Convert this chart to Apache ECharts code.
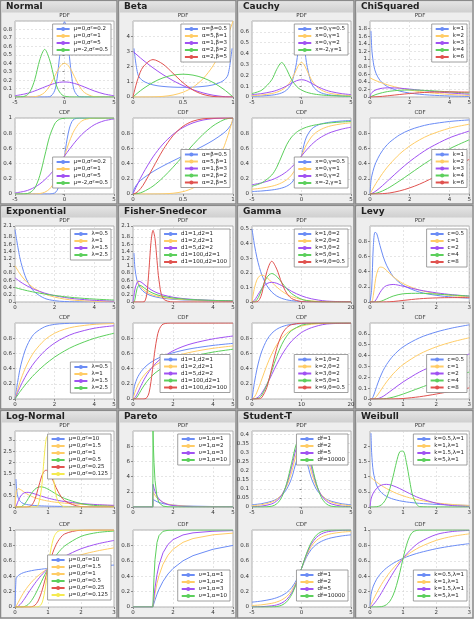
<!DOCTYPE html>
<html><head><meta charset="utf-8">
<script src="https://cdn.jsdelivr.net/npm/echarts@6/dist/echarts.min.js"></script>
<style>html,body{margin:0;padding:0;background:#eee}#c{width:474px;height:619px}</style>
</head><body><div id="c"></div>
<script>
// ---------- DATA ----------
const normalX=[-5,-4,-3.5,-3,-2.5,-2,-1.5,-1,-0.75,-0.5,-0.25,0,0.25,0.5,0.75,1,1.5,2,3,4,5];
const normalNames=['μ=0,σ²=0.2','μ=0,σ²=1','μ=0,σ²=5','μ=-2,σ²=0.5'];
const normalPdf=[
[0,0,0,0,0,0,0.003,0.073,0.219,0.477,0.763,0.892,0.763,0.477,0.219,0.073,0.003,0,0,0,0],
[0,0,0.001,0.004,0.018,0.054,0.130,0.242,0.301,0.352,0.387,0.399,0.387,0.352,0.301,0.242,0.130,0.054,0.004,0,0],
[0.015,0.036,0.052,0.072,0.095,0.119,0.142,0.161,0.168,0.174,0.177,0.178,0.177,0.174,0.168,0.161,0.142,0.119,0.072,0.036,0.015],
[0,0.010,0.059,0.207,0.439,0.564,0.439,0.207,0.118,0.059,0.026,0.010,0.004,0.001,0,0,0,0,0,0,0]];
const normalCdf=[
[0,0,0,0,0,0,0,0.013,0.047,0.132,0.288,0.5,0.712,0.868,0.953,0.987,1,1,1,1,1],
[0,0,0,0.001,0.006,0.023,0.067,0.159,0.227,0.309,0.401,0.5,0.599,0.691,0.773,0.841,0.933,0.977,0.999,1,1],
[0.013,0.037,0.059,0.090,0.132,0.186,0.251,0.327,0.369,0.411,0.455,0.5,0.545,0.589,0.631,0.673,0.749,0.814,0.910,0.963,0.987],
[0,0.002,0.017,0.079,0.240,0.5,0.760,0.921,0.962,0.983,0.993,0.998,1,1,1,1,1,1,1,1,1]];

const betaX=[0,0.01,0.05,0.1,0.2,0.3,0.4,0.5,0.6,0.7,0.8,0.9,0.95,0.99,1];
const betaNames=['α=β=0.5','α=5,β=1','α=1,β=3','α=2,β=2','α=2,β=5'];
const betaPdf=[
[null,3.2,1.46,1.06,0.796,0.695,0.650,0.637,0.650,0.695,0.796,1.06,1.46,3.2,null],
[0,0,0,0.0005,0.008,0.0405,0.128,0.3125,0.648,1.2,2.05,3.28,4.07,4.8,5],
[3,2.94,2.71,2.43,1.92,1.47,1.08,0.75,0.48,0.27,0.12,0.03,0.0075,0,0],
[0,0.059,0.285,0.54,0.96,1.26,1.44,1.5,1.44,1.26,0.96,0.54,0.285,0.059,0],
[0,0.288,1.22,1.97,2.46,2.16,1.56,0.94,0.46,0.17,0.038,0.0027,0,0,0]];
const betaCdf=[
[0,0.064,0.144,0.205,0.295,0.369,0.436,0.5,0.564,0.631,0.705,0.795,0.856,0.936,1],
[0,0,0,0,0,0.002,0.01,0.031,0.078,0.168,0.328,0.59,0.774,0.951,1],
[0,0.030,0.143,0.271,0.488,0.657,0.784,0.875,0.936,0.973,0.992,0.999,1,1,1],
[0,0,0.007,0.028,0.104,0.216,0.352,0.5,0.648,0.784,0.896,0.972,0.993,1,1],
[0,0.001,0.033,0.114,0.345,0.580,0.767,0.891,0.959,0.989,0.998,1,1,1,1]];

const cauchyX=[-5,-4,-3,-2.5,-2,-1.5,-1,-0.5,-0.25,0,0.25,0.5,1,1.5,2,2.5,3,4,5];
const cauchyNames=['x=0,γ=0.5','x=0,γ=1','x=0,γ=2','x=-2,γ=1'];
const cauchyPdf=[
[0.0063,0.0098,0.0172,0.0245,0.0374,0.0637,0.127,0.318,0.509,0.637,0.509,0.318,0.127,0.0637,0.0374,0.0245,0.0172,0.0098,0.0063],
[0.0122,0.0187,0.032,0.044,0.064,0.098,0.159,0.255,0.300,0.318,0.300,0.255,0.159,0.098,0.064,0.044,0.032,0.0187,0.0122],
[0.022,0.0318,0.049,0.062,0.0796,0.102,0.127,0.150,0.157,0.159,0.157,0.150,0.127,0.102,0.0796,0.062,0.049,0.0318,0.022],
[0.032,0.064,0.159,0.255,0.318,0.255,0.159,0.098,0.078,0.064,0.053,0.044,0.032,0.024,0.0187,0.015,0.0122,0.0086,0.0061]];
const cauchyCdf=[
[0.032,0.040,0.053,0.063,0.078,0.102,0.148,0.25,0.352,0.5,0.648,0.75,0.852,0.898,0.922,0.937,0.947,0.960,0.968],
[0.063,0.078,0.102,0.121,0.148,0.187,0.25,0.352,0.422,0.5,0.578,0.648,0.75,0.813,0.852,0.879,0.898,0.922,0.937],
[0.121,0.148,0.187,0.215,0.25,0.295,0.352,0.422,0.460,0.5,0.540,0.578,0.648,0.705,0.75,0.785,0.813,0.852,0.879],
[0.102,0.148,0.25,0.352,0.5,0.648,0.75,0.813,0.835,0.852,0.867,0.879,0.898,0.911,0.922,0.930,0.937,0.947,0.955]];

const chiX=[0,0.05,0.1,0.2,0.3,0.5,0.75,1,1.5,2,2.5,3,4,5];
const chiNames=['k=1','k=2','k=3','k=4','k=6'];
const chiPdf=[
[null,1.74,1.20,0.807,0.627,0.439,0.317,0.242,0.154,0.104,0.072,0.051,0.027,0.015],
[0.5,0.494,0.476,0.452,0.430,0.389,0.344,0.303,0.236,0.184,0.143,0.112,0.068,0.041],
[0,0.087,0.120,0.161,0.188,0.220,0.238,0.242,0.231,0.208,0.180,0.154,0.108,0.073],
[0,0.012,0.024,0.045,0.065,0.097,0.129,0.152,0.177,0.184,0.179,0.167,0.135,0.103],
[0,0,0.0006,0.0023,0.0048,0.0122,0.0242,0.038,0.066,0.092,0.112,0.126,0.135,0.128]];
const chiCdf=[
[0,0.177,0.248,0.345,0.416,0.520,0.614,0.683,0.779,0.843,0.886,0.917,0.954,0.975],
[0,0.025,0.049,0.095,0.139,0.221,0.313,0.393,0.528,0.632,0.713,0.777,0.865,0.918],
[0,0.003,0.008,0.022,0.040,0.081,0.139,0.199,0.318,0.428,0.524,0.608,0.739,0.828],
[0,0.0006,0.0012,0.0045,0.010,0.026,0.055,0.090,0.174,0.264,0.355,0.442,0.594,0.713],
[0,0,0,0,0,0.002,0.007,0.014,0.041,0.080,0.130,0.191,0.323,0.456]];

const expX=[0,0.25,0.5,0.75,1,1.5,2,2.5,3,4,5];
const expNames=['λ=0.5','λ=1','λ=1.5','λ=2.5'];
const expPdf=[
[2,1.213,0.736,0.446,0.271,0.100,0.037,0.013,0.005,0.0007,0],
[1,0.779,0.607,0.472,0.368,0.223,0.135,0.082,0.050,0.018,0.007],
[0.667,0.564,0.478,0.404,0.342,0.245,0.176,0.126,0.090,0.046,0.024],
[0.4,0.362,0.327,0.296,0.268,0.220,0.180,0.147,0.120,0.081,0.054]];
const expCdf=[
[0,0.393,0.632,0.777,0.865,0.950,0.982,0.993,0.998,1,1],
[0,0.221,0.393,0.528,0.632,0.777,0.865,0.918,0.950,0.982,0.993],
[0,0.154,0.283,0.394,0.487,0.632,0.736,0.811,0.865,0.931,0.964],
[0,0.095,0.181,0.259,0.330,0.451,0.551,0.632,0.699,0.798,0.865]];

const fX=[0,0.05,0.1,0.2,0.3,0.4,0.5,0.6,0.7,0.8,0.9,1,1.1,1.2,1.3,1.5,2,2.5,3,4,5];
const fNames=['d1=1,d2=1','d1=2,d2=1','d1=5,d2=2','d1=100,d2=1','d1=100,d2=100'];
const fPdf=[
[null,1.356,0.916,0.593,0.447,0.360,0.300,0.257,0.223,0.198,0.177,0.159,0.1445,0.132,0.121,0.104,0.075,0.0575,0.046,0.0318,0.0237],
[null,null,null,0.604,0.494,0.414,0.354,0.306,0.269,0.239,0.213,0.192,0.175,0.160,0.146,0.125,0.0894,0.068,0.054,0.037,0.0274],
[0,0.183,0.358,0.535,0.573,0.552,0.511,0.465,0.42,0.378,0.34,0.308,0.28,0.255,0.235,0.194,0.132,0.095,0.0717,0.0448,0.0305],
[0,0,0.085,0.366,0.458,0.451,0.415,0.373,0.334,0.298,0.268,0.242,0.220,0.200,0.183,0.156,0.110,0.083,0.065,0.044,0.032],
[0,0,0,0,0,0,0,0.03,0.25,0.90,1.65,1.98,1.75,1.15,0.60,0.10,0,0,0,0,0]];
const fCdf=[
[0,0.140,0.195,0.268,0.319,0.359,0.392,0.420,0.444,0.465,0.483,0.5,0.515,0.529,0.542,0.564,0.608,0.641,0.667,0.705,0.732],
[0,0.047,0.087,0.155,0.209,0.255,0.293,0.326,0.355,0.380,0.402,0.423,0.441,0.458,0.473,0.5,0.553,0.592,0.622,0.667,0.698],
[0,0.005,0.018,0.063,0.118,0.175,0.228,0.277,0.321,0.361,0.397,0.429,0.459,0.485,0.510,0.553,0.634,0.691,0.733,0.791,0.829],
[0,0,0.0016,0.025,0.068,0.114,0.157,0.197,0.232,0.264,0.292,0.317,0.341,0.361,0.380,0.414,0.480,0.527,0.564,0.617,0.655],
[0,0,0,0,0,0,0,0.003,0.02,0.08,0.23,0.44,0.65,0.81,0.91,0.985,1,1,1,1,1]];

const gammaX=[0,0.5,1,1.5,2,3,4,5,6,7,8,10,12,15,20];
const gammaNames=['k=1,θ=2','k=2,θ=2','k=3,θ=2','k=5,θ=1','k=9,θ=0.5'];
const gammaPdf=[
[0.5,0.389,0.303,0.236,0.184,0.112,0.068,0.041,0.025,0.015,0.009,0.0034,0.0012,0,0],
[0,0.097,0.152,0.177,0.184,0.167,0.135,0.103,0.075,0.053,0.037,0.017,0.0074,0.002,0],
[0,0.012,0.038,0.066,0.092,0.126,0.135,0.128,0.112,0.094,0.073,0.042,0.022,0.0065,0.0011],
[0,0.0016,0.0153,0.047,0.090,0.168,0.195,0.175,0.134,0.0912,0.0573,0.0189,0.0053,0.0006,0],
[0,0,0.0017,0.0162,0.0595,0.2066,0.279,0.225,0.131,0.0609,0.024,0.0026,0,0,0]];
const gammaCdf=[
[0,0.221,0.393,0.528,0.632,0.777,0.865,0.918,0.950,0.970,0.982,0.993,0.998,1,1],
[0,0.026,0.090,0.173,0.264,0.442,0.594,0.713,0.801,0.864,0.908,0.960,0.983,0.995,1],
[0,0.002,0.014,0.040,0.080,0.191,0.323,0.456,0.577,0.679,0.762,0.875,0.938,0.986,0.997],
[0,0,0.004,0.019,0.053,0.185,0.371,0.560,0.715,0.827,0.900,0.971,0.992,0.999,1],
[0,0,0,0.004,0.021,0.153,0.407,0.667,0.845,0.938,0.978,0.998,1,1,1]];

const levyX=[0,0.05,0.1,0.15,0.2,0.3,0.4,0.5,0.7,1,1.5,2,2.5,3];
const levyNames=['c=0.5','c=1','c=2','c=4','c=8'];
const levyPdf=[
[0,0.170,0.732,0.917,0.904,0.746,0.597,0.484,0.337,0.220,0.130,0.088,0.0646,0.050],
[0,0,0.085,0.245,0.366,0.459,0.452,0.415,0.334,0.242,0.156,0.110,0.0827,0.065],
[0,0,0,0.012,0.0425,0.123,0.183,0.216,0.231,0.2075,0.157,0.121,0.0957,0.0778],
[0,0,0,0,0,0.006,0.0213,0.041,0.078,0.108,0.1145,0.104,0.0907,0.0788],
[0,0,0,0,0,0,0,0.001,0.0064,0.0207,0.0427,0.054,0.0576,0.0572]];
const levyCdf=[
[0,0.0016,0.025,0.068,0.114,0.196,0.264,0.317,0.398,0.480,0.564,0.617,0.655,0.683],
[0,0,0.0016,0.0095,0.025,0.068,0.114,0.157,0.232,0.317,0.414,0.480,0.527,0.564],
[0,0,0,0,0.0016,0.0095,0.025,0.0455,0.091,0.157,0.249,0.317,0.371,0.414],
[0,0,0,0,0,0,0.0016,0.0047,0.017,0.0455,0.102,0.157,0.206,0.248],
[0,0,0,0,0,0,0,0,0.0007,0.0047,0.021,0.0455,0.074,0.102]];

const lognX=[0,0.03,0.05,0.1,0.2,0.3,0.4,0.5,0.6,0.7,0.8,0.85,0.9,0.95,1,1.05,1.1,1.15,1.2,1.3,1.5,2,2.5,3];
const lognNames=['μ=0,σ²=10','μ=0,σ²=1.5','μ=0,σ²=1','μ=0,σ²=0.5','μ=0,σ²=0.25','μ=0,σ²=0.125'];
const lognPdf=[
[null,1.25,0.763,0.389,0.197,0.132,0.0997,0.0798,0.0665,0.057,0.0499,0.047,0.0443,0.042,0.0399,0.038,0.0363,0.0347,0.0332,0.0307,0.0266,0.0199,0.016,0.0133],
[0,0.576,0.723,0.819,0.748,0.643,0.552,0.478,0.418,0.369,0.329,0.311,0.295,0.280,0.266,0.253,0.241,0.230,0.220,0.2015,0.171,0.1196,0.0883,0.0678],
[0,0.028,0.0897,0.2816,0.546,0.644,0.655,0.628,0.584,0.535,0.486,0.463,0.441,0.419,0.399,0.3795,0.361,0.3435,0.327,0.296,0.245,0.157,0.105,0.0727],
[0,0,0,0,0.0225,0.146,0.3726,0.611,0.789,0.885,0.903,0.890,0.867,0.8355,0.798,0.756,0.712,0.667,0.622,0.535,0.383,0.153,0.0596,0.0238],
[0,0,0,0,0,0,0.0049,0.0686,0.330,0.825,1.340,1.520,1.622,1.645,1.596,1.491,1.349,1.187,1.020,0.707,0.286,0.017,0.0008,0],
[0,0,0,0,0,0,0,0,0.0013,0.078,0.810,1.613,2.486,3.088,3.192,2.817,2.170,1.486,0.920,0.270,0.011,0,0,0]];
const lognCdf=[
[0,0.363,0.382,0.409,0.436,0.452,0.463,0.472,0.480,0.486,0.491,0.494,0.496,0.498,0.5,0.502,0.504,0.506,0.507,0.510,0.516,0.528,0.536,0.544],
[0,0.0097,0.023,0.062,0.142,0.211,0.271,0.322,0.367,0.406,0.441,0.457,0.472,0.486,0.5,0.513,0.525,0.537,0.548,0.569,0.606,0.678,0.729,0.768],
[0,0,0.0014,0.0107,0.054,0.114,0.180,0.244,0.305,0.361,0.412,0.435,0.458,0.480,0.5,0.519,0.538,0.556,0.572,0.603,0.657,0.756,0.820,0.864],
[0,0,0,0,0.0006,0.008,0.033,0.083,0.153,0.238,0.328,0.373,0.417,0.459,0.5,0.539,0.576,0.610,0.642,0.700,0.791,0.917,0.967,0.986],
[0,0,0,0,0,0,0,0.003,0.021,0.077,0.186,0.258,0.337,0.419,0.5,0.577,0.648,0.712,0.767,0.853,0.948,0.997,1,1],
[0,0,0,0,0,0,0,0,0,0.002,0.037,0.097,0.200,0.341,0.5,0.652,0.777,0.868,0.928,0.982,0.999,1,1,1]];

const paretoX=[0,0.99,1,1.02,1.05,1.1,1.2,1.3,1.5,1.75,2,2.5,3,4,5];
const paretoNames=['υ=1,α=1','υ=1,α=2','υ=1,α=3','υ=1,α=10'];
const paretoPdf=[
[0,0,1,0.961,0.907,0.826,0.694,0.592,0.444,0.327,0.25,0.16,0.111,0.0625,0.04],
[0,0,2,1.885,1.728,1.503,1.157,0.910,0.593,0.373,0.25,0.128,0.074,0.031,0.016],
[0,0,3,2.772,2.468,2.049,1.447,1.050,0.593,0.320,0.1875,0.077,0.037,0.0117,0.0048],
[0,0,10,8.04,5.847,3.505,1.346,0.558,0.116,0.0211,0.0049,0,0,0,0]];
const paretoCdf=[
[0,0,0,0.020,0.048,0.091,0.167,0.231,0.333,0.429,0.5,0.6,0.667,0.75,0.8],
[0,0,0,0.039,0.093,0.174,0.306,0.408,0.556,0.673,0.75,0.84,0.889,0.9375,0.96],
[0,0,0,0.058,0.136,0.249,0.421,0.545,0.704,0.813,0.875,0.936,0.963,0.984,0.992],
[0,0,0,0.180,0.386,0.614,0.838,0.927,0.983,0.996,0.999,1,1,1,1]];

const tX=[-5,-4,-3,-2.5,-2,-1.5,-1,-0.5,0,0.5,1,1.5,2,2.5,3,4,5];
const tNames=['df=1','df=2','df=5','df=10000'];
const tPdf=[
[0.0122,0.0187,0.032,0.044,0.064,0.098,0.159,0.255,0.318,0.255,0.159,0.098,0.064,0.044,0.032,0.0187,0.0122],
[0.007,0.013,0.027,0.042,0.068,0.114,0.192,0.296,0.354,0.296,0.192,0.114,0.068,0.042,0.027,0.013,0.007],
[0.0018,0.0051,0.0173,0.0333,0.065,0.1245,0.220,0.328,0.380,0.328,0.220,0.1245,0.065,0.0333,0.0173,0.0051,0.0018],
[0,0.0001,0.0044,0.0175,0.054,0.130,0.242,0.352,0.399,0.352,0.242,0.130,0.054,0.0175,0.0044,0.0001,0]];
const tCdf=[
[0.063,0.078,0.102,0.121,0.148,0.187,0.25,0.352,0.5,0.648,0.75,0.813,0.852,0.879,0.898,0.922,0.937],
[0.019,0.029,0.048,0.065,0.092,0.136,0.211,0.333,0.5,0.667,0.789,0.864,0.908,0.935,0.952,0.971,0.981],
[0.002,0.005,0.015,0.027,0.051,0.097,0.182,0.319,0.5,0.681,0.818,0.903,0.949,0.973,0.985,0.995,0.998],
[0,0,0.0013,0.006,0.023,0.067,0.159,0.309,0.5,0.691,0.841,0.933,0.977,0.994,0.9987,1,1]];

const weibX=[0,0.03,0.05,0.1,0.2,0.3,0.4,0.5,0.6,0.7,0.8,0.9,1,1.1,1.2,1.3,1.5,2,2.5,3];
const weibNames=['k=0.5,λ=1','k=1,λ=1','k=1.5,λ=1','k=5,λ=1'];
const weibPdf=[
[null,2.43,1.789,1.153,0.715,0.528,0.420,0.349,0.298,0.259,0.229,0.204,0.184,0.167,0.153,0.140,0.120,0.086,0.065,0.051],
[1,0.970,0.951,0.905,0.819,0.741,0.670,0.607,0.549,0.497,0.449,0.407,0.368,0.333,0.301,0.273,0.223,0.135,0.082,0.050],
[0,0.258,0.332,0.459,0.613,0.697,0.736,0.745,0.730,0.698,0.655,0.606,0.552,0.496,0.441,0.388,0.293,0.1255,0.0455,0.0144],
[0,0,0,0.0005,0.008,0.0404,0.127,0.303,0.600,1.015,1.476,1.816,1.839,1.462,0.861,0.349,0.0127,0,0,0]];
const weibCdf=[
[0,0.159,0.200,0.271,0.361,0.422,0.469,0.507,0.539,0.567,0.591,0.613,0.632,0.650,0.665,0.680,0.706,0.757,0.794,0.823],
[0,0.030,0.049,0.095,0.181,0.259,0.330,0.393,0.451,0.503,0.551,0.593,0.632,0.667,0.699,0.727,0.777,0.865,0.918,0.950],
[0,0.005,0.011,0.031,0.086,0.151,0.224,0.298,0.372,0.443,0.511,0.574,0.632,0.685,0.731,0.773,0.841,0.941,0.981,0.994],
[0,0,0,0,0.0003,0.0024,0.010,0.031,0.075,0.155,0.280,0.446,0.632,0.800,0.917,0.976,0.9995,1,1,1]];

// ---------- STYLE / LAYOUT ----------
const COL={b:'#6b8cf5',y:'#ffcc66',p:'#a052f2',g:'#5ccf5c',r:'#e0524f',l:'#f5ea50'};
const C5=[COL.b,COL.y,COL.p,COL.g,COL.r], C4=[COL.b,COL.y,COL.p,COL.g];
const panels=[
{t:'Normal',x:normalX,n:normalNames,pdf:normalPdf,cdf:normalCdf,c:C4,xr:[-5,5,5],py:[0,0.9,0.1,false,false],cy:[0,1,0.2,true,true]},
{t:'Beta',x:betaX,n:betaNames,pdf:betaPdf,cdf:betaCdf,c:C5,xr:[0,1,0.5],py:[0,5,1,false,true],cy:[0,1,0.2,false,true]},
{t:'Cauchy',x:cauchyX,n:cauchyNames,pdf:cauchyPdf,cdf:cauchyCdf,c:C4,xr:[-5,5,5],py:[0,0.7,0.1,false,false],cy:[0,1,0.2,false,false]},
{t:'ChiSquared',x:chiX,n:chiNames,pdf:chiPdf,cdf:chiCdf,c:C5,xr:[0,5,2],py:[0,2,0.2,false,true],cy:[0,1,0.2,false,true]},
{t:'Exponential',x:expX,n:expNames,pdf:expPdf,cdf:expCdf,c:C4,xr:[0,5,2],py:[0,2.1,0.2,true,false],cy:[0,1,0.2,false,true]},
{t:'Fisher-Snedecor',x:fX,n:fNames,pdf:fPdf,cdf:fCdf,c:C5,xr:[0,5,2],py:[0,2.1,0.2,true,false],cy:[0,1,0.2,false,true]},
{t:'Gamma',x:gammaX,n:gammaNames,pdf:gammaPdf,cdf:gammaCdf,c:C5,xr:[0,20,10],py:[0,0.52,0.1,false,true],cy:[0,1,0.2,false,true]},
{t:'Levy',x:levyX,n:levyNames,pdf:levyPdf,cdf:levyCdf,c:C5,xr:[0,3,1],py:[0,1,0.2,false,false],cy:[0,0.7,0.1,false,true]},
{t:'Log-Normal',x:lognX,n:lognNames,pdf:lognPdf,cdf:lognCdf,c:[COL.b,COL.y,COL.p,COL.g,COL.r,COL.l],xr:[0,3,1],py:[0,3.4,0.5,false,true],cy:[0,1,0.2,true,true]},
{t:'Pareto',x:paretoX,n:paretoNames,pdf:paretoPdf,cdf:paretoCdf,c:C4,xr:[0,5,2],py:[0,10,2,false,true],cy:[0,1,0.2,false,true],ns:true},
{t:'Student-T',x:tX,n:tNames,pdf:tPdf,cdf:tCdf,c:C4,xr:[-5,5,5],py:[0,0.42,0.05,false,false],cy:[0,1,0.2,false,false]},
{t:'Weibull',x:weibX,n:weibNames,pdf:weibPdf,cdf:weibCdf,c:C4,xr:[0,3,1],py:[0,2.5,0.5,false,true],cy:[0,1,0.2,true,true]}
];
const colX=[0,118,237,355], colW=[118,119,118,119], rowY=[0,205,410], rowH=[205,205,209];

const option={backgroundColor:'#eeeeee',animation:false,textStyle:{fontFamily:'DejaVu Sans'},
 grid:[],xAxis:[],yAxis:[],series:[],legend:[],title:[],graphic:[]};
const lbl={fontSize:5.5,color:'#333',margin:3};
const split={show:true,lineStyle:{color:'#d4d4d4',type:[2,2],width:0.6}};
panels.forEach((P,i)=>{
 const col=i%4,row=Math.floor(i/4);
 const px=colX[col],pw=colW[col],py=rowY[row],ph=rowH[row];
 const gl=px+15,gr=474-(px+pw-4);
 const tops=[py+21,py+(row==2?120:118)], hts=[76,row==2?77:76];
 option.graphic.push({type:'rect',shape:{x:px+0.5,y:py+0.5,width:pw-1.5,height:ph-1.5},style:{fill:null,stroke:'#8a8a8a',lineWidth:1.5}});
 option.graphic.push({type:'rect',shape:{x:px+1.5,y:py+1.5,width:pw-3.5,height:11},style:{fill:new echarts.graphic.LinearGradient(0,0,0,1,[{offset:0,color:'#e4e4e4'},{offset:1,color:'#cfcfcf'}])}});
 option.graphic.push({type:'text',x:px+6,y:py+2,style:{text:P.t,font:'bold 9px "DejaVu Sans"',fill:'#222'}});
 ['PDF','CDF'].forEach((kind,k)=>{
  const gi=option.grid.length;
  option.grid.push({left:gl,right:gr,top:tops[k],height:hts[k],show:true,backgroundColor:'#ffffff',borderColor:'#a0a0a0',borderWidth:0.8});
  option.title.push({text:kind,left:gl+(474-gr-gl)/2,top:tops[k]-8,textAlign:'center',textStyle:{fontSize:5.5,fontWeight:'normal',color:'#333'},padding:0});
  option.xAxis.push({type:'value',gridIndex:gi,min:P.xr[0],max:P.xr[1],interval:P.xr[2],axisLine:{show:false},axisTick:{length:2,lineStyle:{color:'#888'}},axisLabel:lbl,splitLine:split});
  const Y=k?P.cy:P.py;
  option.yAxis.push({type:'value',gridIndex:gi,min:Y[0],max:Y[1],interval:Y[2],axisLine:{show:false},axisTick:{length:2,lineStyle:{color:'#888'}},
   axisLabel:Object.assign({},lbl,{showMaxLabel:Y[3],showMinLabel:!Y[4]||true}),splitLine:split});
  const ys=k?P.cdf:P.pdf;
  ys.forEach((arr,s)=>{
   option.series.push({type:'line',name:P.n[s],xAxisIndex:gi,yAxisIndex:gi,symbol:'none',smooth:P.ns?false:0.3,
    connectNulls:false,clip:true,lineStyle:{width:1,color:P.c[s]},itemStyle:{color:P.c[s]},
    data:P.x.map((x,j)=>[x,arr[j]==null?'-':arr[j]])});
  });
  const leg={data:P.n,orient:'vertical',right:gr+3,backgroundColor:'#fff',borderColor:'#888',borderWidth:0.8,padding:[2,3],
   itemGap:1,itemWidth:13,itemHeight:5,textStyle:{fontSize:5.5,color:'#222',padding:[0,0,0,-1]},selectedMode:false};
  if(k==0) leg.top=tops[k]+3; else leg.top=tops[k]+hts[k]-3-(P.n.length*7.5+4);
  option.legend.push(leg);
 });
});
const chart=echarts.init(document.getElementById('c'),null,{renderer:'canvas'});
chart.setOption(option);
</script></body></html>
